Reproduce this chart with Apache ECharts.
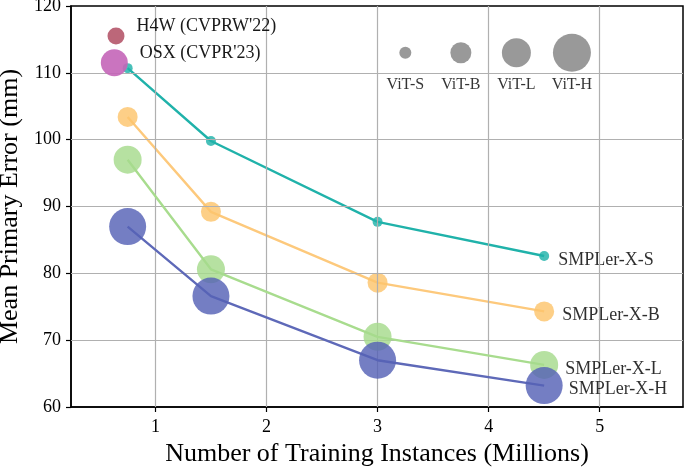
<!DOCTYPE html>
<html>
<head>
<meta charset="utf-8">
<script src="https://cdn.jsdelivr.net/npm/echarts@6.0.0/dist/echarts.min.js"></script>
<style>
  html, body { margin: 0; padding: 0; background: #fff; }
  #chart { width: 688px; height: 467px; }
</style>
</head>
<body>
<div id="chart"></div>
<script>
// data
var instances = [0.75, 1.5, 3, 4.5];          // millions
var errS = [110.7, 99.8, 87.7, 82.6];
var errB = [103.4, 89.2, 78.6, 74.3];
var errL = [97.0, 80.6, 70.5, 66.3];
var errH = [87.0, 76.6, 67.0, 63.2];
var modelNames = ['SMPLer-X-S', 'SMPLer-X-B', 'SMPLer-X-L', 'SMPLer-X-H'];
var vitNames = ['ViT-S', 'ViT-B', 'ViT-L', 'ViT-H'];
var priorNames = ['H4W (CVPRW\'22)', 'OSX (CVPR\'23)'];
var priorErr = [115.5, 111.5];
var xTicks = [1, 2, 3, 4, 5];
var yGrid = [70, 80, 90, 100, 110];

var FONT = 'Liberation Serif';
var chart = echarts.init(document.getElementById('chart'));

// style for each model size
var colors = ['#20b2aa', '#fdc46c', '#a6db8c', '#5662b6'];
var lineColors = ['#20b2aa', '#fdc97c', '#a8dc8e', '#5e69b8'];
var sizes = [10, 20, 28, 37];
var keySizes = [12, 21, 29, 38];
var labelDist = [9, 8, 7, 6];

var allErr = [errS, errB, errL, errH];

function zipXY(ys) {
  return ys.map(function (y, i) { return [instances[i], y]; });
}

var series = [];

// grid lines (axis extent isn't a multiple of the tick step, so draw them as markLines)
series.push({
  type: 'line', data: [], z: 1, silent: true,
  markLine: {
    silent: true, symbol: 'none', label: { show: false },
    lineStyle: { color: '#b0b0b0', width: 1.2, type: 'solid' },
    data: xTicks.map(function (v) { return { xAxis: v }; })
      .concat(yGrid.map(function (v) { return { yAxis: v }; }))
  }
});

allErr.forEach(function (ys, k) {
  var pts = zipXY(ys);
  var data = pts.map(function (p, i) {
    if (i === pts.length - 1) {
      return {
        value: p,
        label: {
          show: true, position: 'right', distance: labelDist[k], offset: [0, 4],
          formatter: modelNames[k], color: '#000', fontFamily: FONT, fontSize: 18
        }
      };
    }
    return { value: p };
  });
  series.push({
    name: modelNames[k],
    type: 'line',
    z: 3 + k,
    data: data,
    symbol: 'circle',
    symbolSize: sizes[k],
    showAllSymbol: true,
    lineStyle: { color: lineColors[k], width: 2.4 },
    itemStyle: { color: colors[k], opacity: 0.82 },
    label: { show: false },
    emphasis: { disabled: true }
  });
});

// previous methods (legend-like entries top-left)
var priorColors = ['#b5566a', '#c465b8'];
var priorSizes = [17, 27];
var priorX = [0.645, 0.63];
priorNames.forEach(function (nm, i) {
  series.push({
    name: nm,
    type: 'scatter',
    z: 8,
    symbolSize: priorSizes[i],
    itemStyle: { color: priorColors[i], opacity: 0.9 },
    data: [[priorX[i], priorErr[i]]],
    label: {
      show: true, position: 'right', distance: 12, offset: [0, -10],
      formatter: nm, color: '#000', fontFamily: FONT, fontSize: 18
    }
  });
});

// backbone size key
var keyX = [3.25, 3.75, 4.25, 4.75];
var keyY = 113;
series.push({
  type: 'scatter',
  z: 8,
  data: vitNames.map(function (nm, i) { return { value: [keyX[i], keyY], name: nm }; }),
  symbolSize: function (v, p) { return keySizes[p.dataIndex]; },
  itemStyle: { color: '#808080' },
  label: {
    show: true, position: 'inside', offset: [0, 32],
    formatter: '{b}', color: '#000', fontFamily: FONT, fontSize: 16
  }
});

chart.setOption({
  animation: false,
  backgroundColor: '#fff',
  grid: {
    left: 71, right: 5, top: 6, bottom: 60,
    outerBoundsMode: 'none', containLabel: false,
    show: true, borderColor: '#000', borderWidth: 1.5, backgroundColor: '#fff'
  },
  xAxis: {
    type: 'value',
    min: 0.24, max: 5.75,
    name: 'Number of Training Instances (Millions)',
    nameLocation: 'middle', nameGap: 28,
    nameTextStyle: { fontFamily: FONT, fontSize: 26, color: '#000' },
    axisLine: { show: true, onZero: false, lineStyle: { color: '#000', width: 1.5 } },
    axisTick: { show: true, inside: false, length: 5, customValues: xTicks, lineStyle: { color: '#000', width: 1.2 } },
    axisLabel: { customValues: xTicks, fontFamily: FONT, fontSize: 18, color: '#000', margin: 11 },
    splitLine: { show: false }
  },
  yAxis: {
    type: 'value',
    min: 60, max: 120, interval: 10,
    name: 'Mean Primary Error (mm)',
    nameLocation: 'middle', nameGap: 46,
    nameTextStyle: { fontFamily: FONT, fontSize: 26, color: '#000' },
    axisLine: { show: true, lineStyle: { color: '#000', width: 1.5 } },
    axisTick: { show: true, inside: false, length: 5, lineStyle: { color: '#000', width: 1.2 } },
    axisLabel: { fontFamily: FONT, fontSize: 18, color: '#000', margin: 10 },
    splitLine: { show: false }
  },
  series: series
});
</script>
</body>
</html>
